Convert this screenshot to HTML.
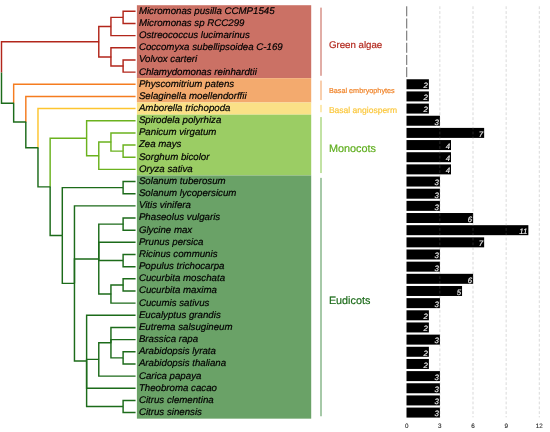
<!DOCTYPE html>
<html><head><meta charset="utf-8"><title>Phylogeny</title>
<style>
html,body{margin:0;padding:0;background:#fff;}
svg{display:block}
text{font-family:"Liberation Sans",sans-serif;text-rendering:geometricPrecision;}
.i{font-style:italic;font-size:9.7px;fill:#000;stroke:#000;stroke-width:0.2px;}
.v{font-style:italic;font-size:7.8px;fill:#f4f4f4;stroke:#f4f4f4;stroke-width:0.15px;text-anchor:end;}
.a{font-size:6.3px;fill:#2a2a2a;stroke:#2a2a2a;stroke-width:0.12px;text-anchor:middle;}
</style></head><body>
<svg width="550" height="432" viewBox="0 0 550 432">
<rect width="550" height="432" fill="#fff"/>
<rect x="136.9" y="5.22" width="174.30" height="72.96" fill="#CB7165"/>
<rect x="136.9" y="78.18" width="174.30" height="24.32" fill="#F3AA6E"/>
<rect x="136.9" y="102.50" width="174.30" height="12.16" fill="#FAE187"/>
<rect x="136.9" y="114.66" width="174.30" height="60.80" fill="#9BCD64"/>
<rect x="136.9" y="175.46" width="174.30" height="243.20" fill="#6AA267"/>
<rect x="320.3" y="7.62" width="1.4" height="68.16" fill="#D48A81"/>
<text x="328.9" y="47.6" font-size="9.7" fill="#B2261B" stroke="#B2261B" stroke-width="0.18" class="s">Green algae</text>
<rect x="320.3" y="80.58" width="1.4" height="19.52" fill="#F5B98A"/>
<text x="328.9" y="92.6" font-size="7.28" fill="#F0842A" stroke="#F0842A" stroke-width="0.18" class="s">Basal embryophytes</text>
<rect x="320.3" y="104.90" width="1.4" height="7.36" fill="#FBE08F"/>
<text x="328.9" y="112.5" font-size="8.52" fill="#FBC73A" stroke="#FBC73A" stroke-width="0.18" class="s">Basal angiosperm</text>
<rect x="320.3" y="117.06" width="1.4" height="56.00" fill="#A9D67E"/>
<text x="328.9" y="151.9" font-size="10.87" fill="#5FAE1E" stroke="#5FAE1E" stroke-width="0.18" class="s">Monocots</text>
<rect x="320.3" y="177.86" width="1.4" height="238.40" fill="#80B283"/>
<text x="328.9" y="303.9" font-size="10.8" fill="#1C6B1A" stroke="#1C6B1A" stroke-width="0.18" class="s">Eudicots</text>
<path d="M123.10 17.38V11.30H135.56" fill="none" stroke="#B2261B" stroke-width="1.45"/>
<path d="M123.10 17.38V23.46H135.56" fill="none" stroke="#B2261B" stroke-width="1.45"/>
<path d="M110.94 26.50V17.38H123.50" fill="none" stroke="#B2261B" stroke-width="1.45"/>
<path d="M110.94 26.50V35.62H135.56" fill="none" stroke="#B2261B" stroke-width="1.45"/>
<path d="M123.10 66.02V59.94H135.56" fill="none" stroke="#B2261B" stroke-width="1.45"/>
<path d="M123.10 66.02V72.10H135.56" fill="none" stroke="#B2261B" stroke-width="1.45"/>
<path d="M110.94 56.90V47.78H135.56" fill="none" stroke="#B2261B" stroke-width="1.45"/>
<path d="M110.94 56.90V66.02H123.50" fill="none" stroke="#B2261B" stroke-width="1.45"/>
<path d="M98.78 41.70V26.50H111.34" fill="none" stroke="#B2261B" stroke-width="1.45"/>
<path d="M98.78 41.70V56.90H111.34" fill="none" stroke="#B2261B" stroke-width="1.45"/>
<path d="M123.10 151.14V145.06H135.56" fill="none" stroke="#6BB21E" stroke-width="1.45"/>
<path d="M123.10 151.14V157.22H135.56" fill="none" stroke="#6BB21E" stroke-width="1.45"/>
<path d="M110.94 142.02V132.90H135.56" fill="none" stroke="#6BB21E" stroke-width="1.45"/>
<path d="M110.94 142.02V151.14H123.50" fill="none" stroke="#6BB21E" stroke-width="1.45"/>
<path d="M98.78 155.70V142.02H111.34" fill="none" stroke="#6BB21E" stroke-width="1.45"/>
<path d="M98.78 155.70V169.38H135.56" fill="none" stroke="#6BB21E" stroke-width="1.45"/>
<path d="M86.62 138.22V120.74H135.56" fill="none" stroke="#6BB21E" stroke-width="1.45"/>
<path d="M86.62 138.22V155.70H99.18" fill="none" stroke="#6BB21E" stroke-width="1.45"/>
<path d="M123.10 187.62V181.54H135.56" fill="none" stroke="#1C6B1A" stroke-width="1.45"/>
<path d="M123.10 187.62V193.70H135.56" fill="none" stroke="#1C6B1A" stroke-width="1.45"/>
<path d="M123.10 224.10V218.02H135.56" fill="none" stroke="#1C6B1A" stroke-width="1.45"/>
<path d="M123.10 224.10V230.18H135.56" fill="none" stroke="#1C6B1A" stroke-width="1.45"/>
<path d="M123.10 260.58V254.50H135.56" fill="none" stroke="#1C6B1A" stroke-width="1.45"/>
<path d="M123.10 260.58V266.66H135.56" fill="none" stroke="#1C6B1A" stroke-width="1.45"/>
<path d="M123.10 284.90V278.82H135.56" fill="none" stroke="#1C6B1A" stroke-width="1.45"/>
<path d="M123.10 284.90V290.98H135.56" fill="none" stroke="#1C6B1A" stroke-width="1.45"/>
<path d="M110.94 294.02V284.90H123.50" fill="none" stroke="#1C6B1A" stroke-width="1.45"/>
<path d="M110.94 294.02V303.14H135.56" fill="none" stroke="#1C6B1A" stroke-width="1.45"/>
<path d="M98.78 259.06V224.10H123.50" fill="none" stroke="#1C6B1A" stroke-width="1.45"/>
<path d="M98.78 259.06V242.34H135.56" fill="none" stroke="#1C6B1A" stroke-width="1.45"/>
<path d="M98.78 259.06V260.58H123.50" fill="none" stroke="#1C6B1A" stroke-width="1.45"/>
<path d="M98.78 259.06V294.02H111.34" fill="none" stroke="#1C6B1A" stroke-width="1.45"/>
<path d="M123.10 357.86V351.78H135.56" fill="none" stroke="#1C6B1A" stroke-width="1.45"/>
<path d="M123.10 357.86V363.94H135.56" fill="none" stroke="#1C6B1A" stroke-width="1.45"/>
<path d="M110.94 342.66V327.46H135.56" fill="none" stroke="#1C6B1A" stroke-width="1.45"/>
<path d="M110.94 342.66V339.62H135.56" fill="none" stroke="#1C6B1A" stroke-width="1.45"/>
<path d="M110.94 342.66V357.86H123.50" fill="none" stroke="#1C6B1A" stroke-width="1.45"/>
<path d="M98.78 359.38V342.66H111.34" fill="none" stroke="#1C6B1A" stroke-width="1.45"/>
<path d="M98.78 359.38V376.10H135.56" fill="none" stroke="#1C6B1A" stroke-width="1.45"/>
<path d="M123.10 406.50V400.42H135.56" fill="none" stroke="#1C6B1A" stroke-width="1.45"/>
<path d="M123.10 406.50V412.58H135.56" fill="none" stroke="#1C6B1A" stroke-width="1.45"/>
<path d="M86.62 360.90V315.30H135.56" fill="none" stroke="#1C6B1A" stroke-width="1.45"/>
<path d="M86.62 360.90V359.38H99.18" fill="none" stroke="#1C6B1A" stroke-width="1.45"/>
<path d="M86.62 360.90V388.26H135.56" fill="none" stroke="#1C6B1A" stroke-width="1.45"/>
<path d="M86.62 360.90V406.50H123.50" fill="none" stroke="#1C6B1A" stroke-width="1.45"/>
<path d="M74.46 283.38V205.86H135.56" fill="none" stroke="#1C6B1A" stroke-width="1.45"/>
<path d="M74.46 283.38V259.06H99.18" fill="none" stroke="#1C6B1A" stroke-width="1.45"/>
<path d="M74.46 283.38V360.90H87.02" fill="none" stroke="#1C6B1A" stroke-width="1.45"/>
<path d="M62.30 235.50V187.62H123.50" fill="none" stroke="#1C6B1A" stroke-width="1.45"/>
<path d="M62.30 235.50V283.38H74.86" fill="none" stroke="#1C6B1A" stroke-width="1.45"/>
<path d="M50.14 186.86V138.22H87.02" fill="none" stroke="#6BB21E" stroke-width="1.45"/>
<path d="M50.14 186.86V235.50H62.70" fill="none" stroke="#1C6B1A" stroke-width="1.45"/>
<path d="M37.98 147.72V108.58H135.56" fill="none" stroke="#FDC530" stroke-width="1.45"/>
<path d="M37.98 147.72V186.86H50.54" fill="none" stroke="#1C6B1A" stroke-width="1.45"/>
<path d="M25.82 122.07V96.42H135.56" fill="none" stroke="#F57C1F" stroke-width="1.45"/>
<path d="M25.82 122.07V147.72H38.38" fill="none" stroke="#1C6B1A" stroke-width="1.45"/>
<path d="M13.66 103.16V84.26H135.56" fill="none" stroke="#F57C1F" stroke-width="1.45"/>
<path d="M13.66 103.16V122.07H26.22" fill="none" stroke="#1C6B1A" stroke-width="1.45"/>
<path d="M1.50 72.43V41.70H99.18" fill="none" stroke="#B2261B" stroke-width="1.45"/>
<path d="M1.50 72.43V103.16H14.06" fill="none" stroke="#1C6B1A" stroke-width="1.45"/>
<text x="138.9" y="13.70" class="i">Micromonas pusilla CCMP1545</text>
<text x="138.9" y="25.86" class="i">Micromonas sp RCC299</text>
<text x="138.9" y="38.02" class="i">Ostreococcus lucimarinus</text>
<text x="138.9" y="50.18" class="i">Coccomyxa subellipsoidea C-169</text>
<text x="138.9" y="62.34" class="i">Volvox carteri</text>
<text x="138.9" y="74.50" class="i">Chlamydomonas reinhardtii</text>
<text x="138.9" y="86.66" class="i">Physcomitrium patens</text>
<text x="138.9" y="98.82" class="i">Selaginella moellendorffii</text>
<text x="138.9" y="110.98" class="i">Amborella trichopoda</text>
<text x="138.9" y="123.14" class="i">Spirodela polyrhiza</text>
<text x="138.9" y="135.30" class="i">Panicum virgatum</text>
<text x="138.9" y="147.46" class="i">Zea mays</text>
<text x="138.9" y="159.62" class="i">Sorghum bicolor</text>
<text x="138.9" y="171.78" class="i">Oryza sativa</text>
<text x="138.9" y="183.94" class="i">Solanum tuberosum</text>
<text x="138.9" y="196.10" class="i">Solanum lycopersicum</text>
<text x="138.9" y="208.26" class="i">Vitis vinifera</text>
<text x="138.9" y="220.42" class="i">Phaseolus vulgaris</text>
<text x="138.9" y="232.58" class="i">Glycine max</text>
<text x="138.9" y="244.74" class="i">Prunus persica</text>
<text x="138.9" y="256.90" class="i">Ricinus communis</text>
<text x="138.9" y="269.06" class="i">Populus trichocarpa</text>
<text x="138.9" y="281.22" class="i">Cucurbita moschata</text>
<text x="138.9" y="293.38" class="i">Cucurbita maxima</text>
<text x="138.9" y="305.54" class="i">Cucumis sativus</text>
<text x="138.9" y="317.70" class="i">Eucalyptus grandis</text>
<text x="138.9" y="329.86" class="i">Eutrema salsugineum</text>
<text x="138.9" y="342.02" class="i">Brassica rapa</text>
<text x="138.9" y="354.18" class="i">Arabidopsis lyrata</text>
<text x="138.9" y="366.34" class="i">Arabidopsis thaliana</text>
<text x="138.9" y="378.50" class="i">Carica papaya</text>
<text x="138.9" y="390.66" class="i">Theobroma cacao</text>
<text x="138.9" y="402.82" class="i">Citrus clementina</text>
<text x="138.9" y="414.98" class="i">Citrus sinensis</text>
<rect x="406.30" y="6.30" width="0.9" height="10" fill="#555"/>
<rect x="406.30" y="18.46" width="0.9" height="10" fill="#555"/>
<rect x="406.30" y="30.62" width="0.9" height="10" fill="#555"/>
<rect x="406.30" y="42.78" width="0.9" height="10" fill="#555"/>
<rect x="406.30" y="54.94" width="0.9" height="10" fill="#555"/>
<rect x="406.30" y="67.10" width="0.9" height="10" fill="#555"/>
<rect x="406.50" y="79.26" width="22.40" height="10" fill="#000"/>
<text x="427.90" y="88.11" class="v">2</text>
<rect x="406.50" y="91.42" width="22.40" height="10" fill="#000"/>
<text x="427.90" y="100.27" class="v">2</text>
<rect x="406.50" y="103.58" width="22.40" height="10" fill="#000"/>
<text x="427.90" y="112.43" class="v">2</text>
<rect x="406.50" y="115.74" width="33.45" height="10" fill="#000"/>
<text x="438.95" y="124.59" class="v">3</text>
<rect x="406.50" y="127.90" width="77.65" height="10" fill="#000"/>
<text x="483.15" y="136.75" class="v">7</text>
<rect x="406.50" y="140.06" width="44.50" height="10" fill="#000"/>
<text x="450.00" y="148.91" class="v">4</text>
<rect x="406.50" y="152.22" width="44.50" height="10" fill="#000"/>
<text x="450.00" y="161.07" class="v">4</text>
<rect x="406.50" y="164.38" width="44.50" height="10" fill="#000"/>
<text x="450.00" y="173.23" class="v">4</text>
<rect x="406.50" y="176.54" width="33.45" height="10" fill="#000"/>
<text x="438.95" y="185.39" class="v">3</text>
<rect x="406.50" y="188.70" width="33.45" height="10" fill="#000"/>
<text x="438.95" y="197.55" class="v">3</text>
<rect x="406.50" y="200.86" width="33.45" height="10" fill="#000"/>
<text x="438.95" y="209.71" class="v">3</text>
<rect x="406.50" y="213.02" width="66.60" height="10" fill="#000"/>
<text x="472.10" y="221.87" class="v">6</text>
<rect x="406.50" y="225.18" width="121.85" height="10" fill="#000"/>
<text x="527.35" y="234.03" class="v">11</text>
<rect x="406.50" y="237.34" width="77.65" height="10" fill="#000"/>
<text x="483.15" y="246.19" class="v">7</text>
<rect x="406.50" y="249.50" width="33.45" height="10" fill="#000"/>
<text x="438.95" y="258.35" class="v">3</text>
<rect x="406.50" y="261.66" width="33.45" height="10" fill="#000"/>
<text x="438.95" y="270.51" class="v">3</text>
<rect x="406.50" y="273.82" width="66.60" height="10" fill="#000"/>
<text x="472.10" y="282.67" class="v">6</text>
<rect x="406.50" y="285.98" width="55.55" height="10" fill="#000"/>
<text x="461.05" y="294.83" class="v">5</text>
<rect x="406.50" y="298.14" width="33.45" height="10" fill="#000"/>
<text x="438.95" y="306.99" class="v">3</text>
<rect x="406.50" y="310.30" width="22.40" height="10" fill="#000"/>
<text x="427.90" y="319.15" class="v">2</text>
<rect x="406.50" y="322.46" width="22.40" height="10" fill="#000"/>
<text x="427.90" y="331.31" class="v">2</text>
<rect x="406.50" y="334.62" width="33.45" height="10" fill="#000"/>
<text x="438.95" y="343.47" class="v">3</text>
<rect x="406.50" y="346.78" width="22.40" height="10" fill="#000"/>
<text x="427.90" y="355.63" class="v">2</text>
<rect x="406.50" y="358.94" width="22.40" height="10" fill="#000"/>
<text x="427.90" y="367.79" class="v">2</text>
<rect x="406.50" y="371.10" width="33.45" height="10" fill="#000"/>
<text x="438.95" y="379.95" class="v">3</text>
<rect x="406.50" y="383.26" width="33.45" height="10" fill="#000"/>
<text x="438.95" y="392.11" class="v">3</text>
<rect x="406.50" y="395.42" width="33.45" height="10" fill="#000"/>
<text x="438.95" y="404.27" class="v">3</text>
<rect x="406.50" y="407.58" width="33.45" height="10" fill="#000"/>
<text x="438.95" y="416.43" class="v">3</text>
<line x1="439.85" y1="6.3" x2="439.85" y2="417.4" stroke="#808080" stroke-opacity="0.42" stroke-width="0.7" stroke-dasharray="2.8 2.02"/>
<line x1="473.00" y1="6.3" x2="473.00" y2="417.4" stroke="#808080" stroke-opacity="0.42" stroke-width="0.7" stroke-dasharray="2.8 2.02"/>
<line x1="506.15" y1="6.3" x2="506.15" y2="417.4" stroke="#808080" stroke-opacity="0.42" stroke-width="0.7" stroke-dasharray="2.8 2.02"/>
<line x1="539.30" y1="6.3" x2="539.30" y2="417.4" stroke="#808080" stroke-opacity="0.42" stroke-width="0.7" stroke-dasharray="2.8 2.02"/>
<text x="406.70" y="427.9" class="a">0</text>
<text x="439.85" y="427.9" class="a">3</text>
<text x="473.00" y="427.9" class="a">6</text>
<text x="506.15" y="427.9" class="a">9</text>
<text x="539.30" y="427.9" class="a">12</text>
</svg>
</body></html>
